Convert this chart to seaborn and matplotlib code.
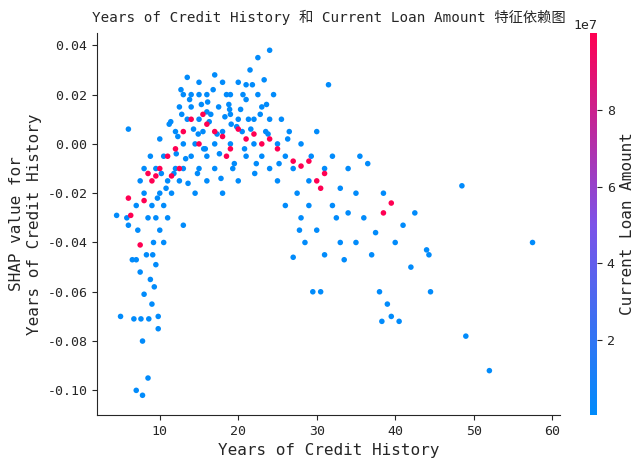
import numpy as np
import matplotlib.pyplot as plt
import seaborn as sns
from matplotlib.colors import LinearSegmentedColormap

# points with a small loan amount (blue)
blue_x = [4.5, 5, 5.8, 6, 6, 6.5, 6.7, 7, 7, 7.2, 7.5, 7.6, 7.8, 7.8, 8, 8.3, 8.5, 8.6, 8.8, 9,
          9.2, 9.5, 9.3, 9.8, 9.8, 8, 8.5, 9, 9.5, 10, 7, 7.5, 8, 8.8, 9.5, 10, 10.5, 10.5, 11, 11,
          10, 10.5, 11.5, 12, 12, 12.5, 12.5, 13, 13, 13, 13.5, 13.5, 14, 14, 14.5, 14.5, 15, 15, 15, 15.5,
          16, 16, 16, 16.5, 17, 17, 17, 17.5, 18, 18, 18.5, 19, 19, 19.5, 20, 20, 20, 20.5, 21, 21,
          21.5, 22, 22, 22.5, 22.5, 23, 23, 23.5, 24, 24, 24, 24.5, 25, 25, 25.5, 26, 26, 26.5, 27, 27,
          27.5, 28, 28, 28.5, 29, 29, 29.5, 30, 30, 30.5, 31, 31, 31.5, 32, 32, 32.5, 33, 33, 33.5, 34,
          34, 35, 35, 35.5, 36, 36.5, 37, 37.5, 38, 38.3, 38.5, 39, 39.5, 40, 40.5, 41, 42, 42.5, 44, 44.5,
          44.3, 48.5, 49, 52, 57.5, 13, 14, 18, 19, 21, 15, 16,
          11.2, 11.8, 12.3, 12.8, 13.3, 13.8, 14.3, 14.8, 15.3, 15.8, 16.3, 16.8, 17.3, 17.8, 18.3, 18.8,
          19.3, 19.8, 20.3, 20.8, 21.3, 21.8, 22.3, 22.8, 23.3, 23.8, 10.2, 10.8, 9.7, 9.1, 12.1, 13.6,
          14.9, 16.1, 17.6, 19.1, 20.6, 22.1, 23.6, 25.2, 26.3, 27.8, 29.3, 11.4, 12.7, 15.6, 18.9, 21.6]
blue_y = [-0.029, -0.07, -0.03, 0.006, -0.033, -0.047, -0.071, -0.1, -0.047, -0.035, -0.052, -0.071, -0.102, -0.08, -0.061, -0.045, -0.095, -0.071, -0.055, -0.065,
          -0.04, -0.049, -0.058, -0.075, -0.07, -0.02, -0.03, -0.025, -0.03, -0.035, -0.025, -0.015, -0.01, -0.005, -0.01, -0.02, -0.025, -0.04, -0.03, -0.015,
          0.002, -0.005, -0.02, -0.01, 0.005, -0.015, 0.015, 0.02, 0.0, -0.01, 0.027, 0.01, -0.005, 0.015, 0.0, -0.02, 0.025, 0.01, -0.01, 0.005,
          0.02, -0.005, -0.015, 0.012, 0.0, 0.028, -0.01, 0.015, 0.005, -0.02, 0.02, 0.0, 0.012, -0.008, 0.025, 0.01, -0.015, 0.005, 0.018, -0.005,
          0.03, 0.01, 0.0, 0.035, 0.02, 0.015, -0.005, 0.005, 0.038, 0.01, -0.01, 0.02, 0.0, -0.015, 0.01, -0.005, -0.025, 0.005, -0.01, -0.046,
          -0.02, 0.0, -0.03, -0.04, -0.015, -0.025, -0.06, -0.035, 0.005, -0.06, -0.01, -0.045, 0.024, -0.025, -0.005, -0.03, -0.018, -0.04, -0.047, -0.028,
          -0.01, -0.02, -0.04, -0.005, -0.03, -0.008, -0.045, -0.036, -0.06, -0.072, -0.02, -0.065, -0.07, -0.04, -0.072, -0.033, -0.05, -0.028, -0.043, -0.06,
          -0.045, -0.017, -0.078, -0.092, -0.04, -0.033, 0.02, 0.025, 0.02, 0.024, 0.02, 0.013,
          0.008, -0.012, 0.003, 0.012, -0.006, 0.018, 0.006, -0.012, 0.016, -0.002, 0.009, 0.022, 0.004, -0.014, 0.011, 0.016,
          -0.01, 0.007, 0.014, -0.002, 0.01, 0.024, -0.008, 0.012, 0.026, 0.004, -0.012, -0.018, -0.022, -0.045, -0.004, -0.016,
          0.004, 0.017, -0.004, 0.008, 0.02, -0.012, 0.016, -0.008, 0.002, -0.035, -0.005, 0.009, 0.022, -0.002, 0.014, 0.006]

# points with the placeholder loan amount 99999999 (red)
red_x = [6, 6.3, 7.5, 8, 8.5, 9, 9.5, 10, 11, 12, 13, 14, 15, 16, 17, 18, 19, 20, 21, 22,
         23, 24, 25, 27, 28, 29, 30, 30.5, 31, 38.5, 39.5, 15.5, 12.5, 18.5, 11.5]
red_y = [-0.022, -0.029, -0.041, -0.023, -0.012, -0.015, -0.013, -0.01, -0.005, -0.002, 0.005, 0.01, 0.0, 0.008, 0.005, 0.003, -0.002, 0.006, 0.002, 0.004,
         0.0, 0.002, -0.002, -0.007, -0.009, -0.007, -0.015, -0.018, -0.012, -0.028, -0.024, 0.012, -0.01, -0.005, -0.013]

low_amount = 1.2e6
high_amount = 99999999

sns.set_style("ticks")
plt.rcParams['font.family'] = ['DejaVu Sans Mono', 'Noto Sans CJK SC']
plt.rcParams['axes.unicode_minus'] = False
plt.rcParams['xtick.labelsize'] = 9.5
plt.rcParams['ytick.labelsize'] = 9.5

red_blue = LinearSegmentedColormap.from_list("red_blue", ["#008bfb", "#7c52e8", "#ff0052"])

x = np.array(blue_x + red_x)
y = np.array(blue_y + red_y)
c = np.array([low_amount] * len(blue_x) + [high_amount] * len(red_x))

fig = plt.figure(figsize=(6.42, 4.69), dpi=100)
ax = fig.add_axes([97 / 642, 54 / 469, 463 / 642, 382 / 469])
cax = fig.add_axes([590 / 642, 54 / 469, 7 / 642, 382 / 469])
sc = ax.scatter(x, y, c=c, cmap=red_blue, vmin=5e5, vmax=high_amount, s=16, linewidths=0)
sns.despine(ax=ax)
ax.set_xlim(2, 61)
ax.set_ylim(-0.11, 0.045)
ax.set_xlabel("Years of Credit History", fontsize=11.5)
ax.set_ylabel("SHAP value for\nYears of Credit History", fontsize=11.5)
ax.set_title("Years of Credit History 和 Current Loan Amount 特征依赖图", fontsize=10.3, pad=8)

cb = fig.colorbar(sc, cax=cax)
cb.outline.set_visible(False)
cb.set_ticks([2e7, 4e7, 6e7, 8e7])
cb.ax.tick_params(labelsize=9.5)
cb.set_label("Current Loan Amount", fontsize=11.5)

plt.savefig("out.png", dpi=100)
